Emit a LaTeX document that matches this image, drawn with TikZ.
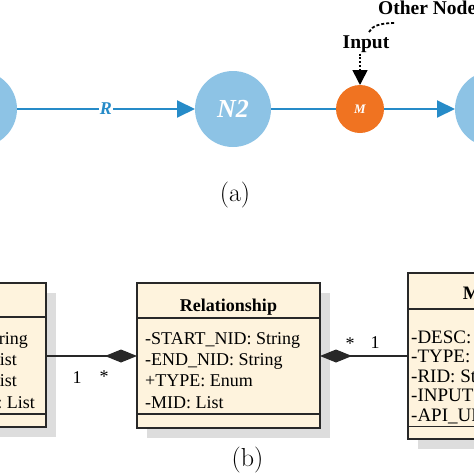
\documentclass[tikz,border=0pt]{standalone}
\usepackage{fontspec}
\newfontfamily\tnr{Liberation Serif}
\usetikzlibrary{arrows.meta,shadows}
\definecolor{nodeblue}{RGB}{141,195,229}
\definecolor{lineblue}{RGB}{38,139,200}
\definecolor{morange}{RGB}{240,115,33}
\definecolor{cream}{RGB}{254,243,221}
\definecolor{shadowgray}{RGB}{221,221,221}
\definecolor{umlborder}{RGB}{40,40,40}
\begin{document}
\begin{tikzpicture}[x=1pt,y=-1pt,
  gnode/.style={circle,fill=nodeblue,minimum size=76pt,inner sep=0pt,outer sep=0pt,text=white,font=\tnr\bfseries\itshape\fontsize{26}{30}\selectfont},
  mnode/.style={circle,fill=morange,minimum size=48pt,inner sep=0pt,outer sep=0pt,text=white,font=\tnr\bfseries\itshape\fontsize{13}{15}\selectfont},
  bline/.style={draw=lineblue,line width=2pt},
  btip/.style={-{Triangle[length=18pt,width=17pt]}},
  rlabel/.style={fill=white,inner sep=1pt,text=lineblue,font=\tnr\bfseries\itshape\fontsize{18}{20}\selectfont},
  blabel/.style={inner sep=1pt,font=\tnr\bfseries\fontsize{19.5}{22}\selectfont},
  dotline/.style={draw=black,line width=1.6pt,dash pattern=on 2pt off 1.8pt},
  umlbox/.style={draw=umlborder,line width=1.4pt,fill=cream,inner sep=0pt,outer sep=0pt,
     drop shadow={shadow xshift=10pt,shadow yshift=-10pt,fill=shadowgray,opacity=1}},
  sepline/.style={draw=umlborder,line width=1.4pt},
  attr/.style={inner sep=0pt,font=\tnr\fontsize{18}{21}\selectfont},
  mattr/.style={inner sep=0pt,font=\tnr\fontsize{19}{21}\selectfont},
  ctitle/.style={inner sep=0pt,font=\tnr\bfseries\fontsize{18}{21}\selectfont},
  mult/.style={inner sep=0pt,font=\tnr\fontsize{18}{21}\selectfont},
  assoc/.style={draw=umlborder,line width=1.5pt},
  caption/.style={inner sep=0pt,font=\fontsize{26}{30}\selectfont}
]
\useasboundingbox (0,0) rectangle (474,474);
\clip (0,0) rectangle (474,474);

% ---------- (a) ----------
\node[gnode] (n1) at (-21,109) {};
\node[gnode] (n2) at (233,109) {N2};
\node[mnode] (m) at (360,109) {M};
\node[gnode] (n3) at (493,109) {};

\draw[bline,btip] (n1) -- (n2) node[rlabel,pos=0.5] (r) {R};
\draw[bline] (n2) -- (m);
\draw[bline,btip] (m) -- (n3);

\node[blabel] (inp) at (366,44) {Input};
\node[blabel,anchor=west] (other) at (377,8) {Other Node};
\draw[dotline,-{Triangle[length=15pt,width=15pt]}] (inp.south -| m.north) -- (m.north);
\coordinate (cs) at (369,32);
\coordinate (ce) at (395,23);
\draw[dotline,line width=1.8pt,dash pattern=on 3pt off 2pt] (cs) .. controls (372,26) and (380,23) .. (ce);

\node[caption] (capa) at (235,195.5) {(a)};

% ---------- (b) ----------
\node[umlbox,minimum width=196pt,minimum height=144pt] (lbox) at (-52,355) {};
\node[umlbox,minimum width=183pt,minimum height=145pt] (rel) at (228.5,355.5) {};
\node[umlbox,minimum width=172pt,minimum height=166pt] (mod) at (494,356) {};

\coordinate (lh) at (0,317);
\coordinate (la) at (0,414);
\coordinate (rh) at (0,318);
\coordinate (ra) at (0,414);
\coordinate (mh) at (0,309);
\coordinate (ma) at (0,426.5);
\draw[sepline] (lbox.west |- lh) -- (lbox.east |- lh);
\draw[sepline] (lbox.west |- la) -- (lbox.east |- la);
\draw[sepline] (rel.west |- rh) -- (rel.east |- rh);
\draw[sepline] (rel.west |- ra) -- (rel.east |- ra);
\draw[sepline] (mod.west |- mh) -- (mod.east |- mh);
\draw[sepline] (mod.west |- ma) -- (mod.east |- ma);

% left class attributes
\node[attr,anchor=base east] (l1) at (28,344) {-NID: String};
\node[attr,anchor=base east] (l2) at (17,365) {-IN\_RID: List};
\node[attr,anchor=base east] (l3) at (17,386) {-OUT\_RID: List};
\node[attr,anchor=base east] (l4) at (35,408) {-MODULE\_ID: List};

% Relationship
\node[ctitle,anchor=base] (reltitle) at (228.5,311) {Relationship};
\node[attr,anchor=base west] (r1) at (145,344) {-START\_NID: String};
\node[attr,anchor=base west] (r2) at (145,365) {-END\_NID: String};
\node[attr,anchor=base west] (r3) at (145,386) {+TYPE: Enum};
\node[attr,anchor=base west] (r4) at (145,408) {-MID: List};

% Module
\node[ctitle,font=\tnr\bfseries\fontsize{19}{21}\selectfont,anchor=base] (modtitle) at (494,299) {Module};
\node[mattr,anchor=base west] (m1) at (411,343) {-DESC: String};
\node[mattr,anchor=base west] (m2) at (411,362.5) {-TYPE: Enum};
\node[mattr,anchor=base west] (m3) at (411,382) {-RID: String};
\node[mattr,anchor=base west] (m4) at (411,401.5) {-INPUT: List};
\node[mattr,anchor=base west] (m5) at (411,421) {-API\_URL: String};

% associations
\coordinate (cy) at (0,356);
\draw[assoc,-{Diamond[length=32pt,width=13pt]}] (lbox.east |- cy) -- (rel.west |- cy);
\draw[assoc,{Diamond[length=32pt,width=13pt]}-] (rel.east |- cy) -- (mod.west |- cy);
\node[mult,anchor=base] (ml1) at (77,383) {1};
\node[mult,anchor=base] (ml2) at (104,382) {*};
\node[mult,anchor=base] (mr1) at (350,349) {*};
\node[mult,anchor=base] (mr2) at (375,348) {1};

\node[caption] (capb) at (247.5,460) {(b)};
\end{tikzpicture}
\end{document}
